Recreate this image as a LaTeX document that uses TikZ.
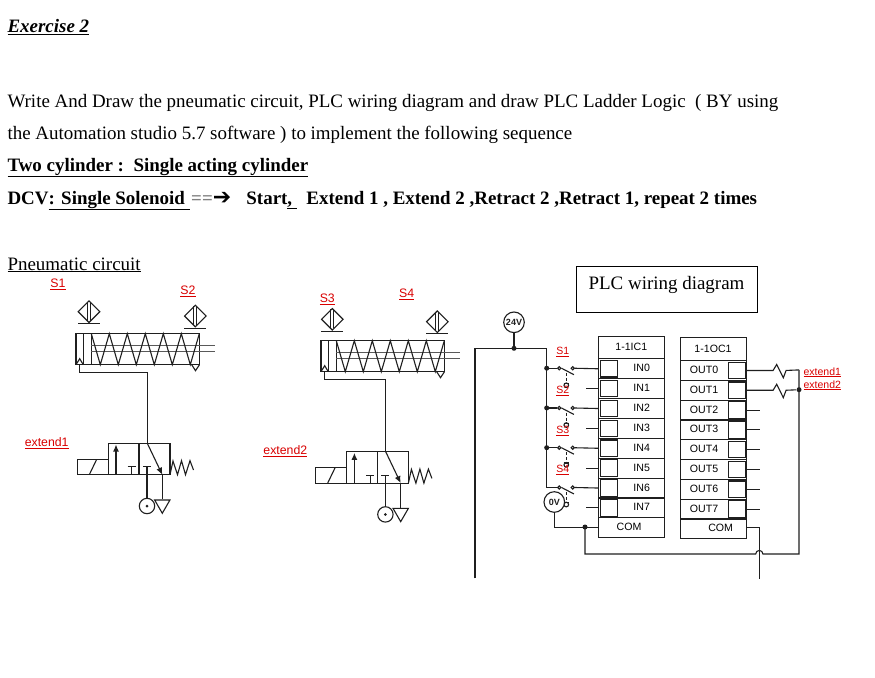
\documentclass[tikz,border=0pt]{standalone}
\usepackage{fontspec}
\setmainfont{Liberation Serif}
\setsansfont{Liberation Sans}
\newfontfamily\arrowfont{DejaVu Sans}
\usetikzlibrary{shapes.geometric,arrows.meta}
\tikzset{
	txt/.style={anchor=base west, inner sep=0pt, font=\fontsize{18.95}{21}\selectfont},
	tag/.style={inner sep=0pt, text=red!85!black, font=\sffamily\fontsize{12.3}{13}\selectfont},
	smalltag/.style={inner sep=0pt, text=red!85!black, font=\sffamily\fontsize{10.5}{11}\selectfont},
	sensor/.style={draw, diamond, minimum size=22pt, inner sep=0pt},
	rowbox/.style={draw, anchor=north west, minimum width=66pt, minimum height=19.85pt, inner sep=0pt},
	sqbox/.style={draw, minimum width=17pt, minimum height=16.5pt, inner sep=0pt},
	plctxt/.style={inner sep=0pt, text=black, font=\sffamily\fontsize{10.6}{12}\selectfont},
	dot/.style={circle, fill, inner sep=0pt, minimum size=5pt},
	contact/.style={draw, fill=white, circle, inner sep=0pt, minimum size=3.2pt},
	supply/.style={draw, circle, inner sep=0pt, minimum size=20.6pt, font=\sffamily\bfseries\fontsize{9}{10}\selectfont}
}
% cylinder: #1 is the shift, #2 the number of its port
\newcommand{\cylinder}[2]{
	\begin{scope}[shift={#1}]
		\draw (76,333.7) rectangle (199.5,364.7);
		\draw (83.3,333.7) -- (83.3,364.7);
		\draw (91.3,333.7) -- (91.3,364.7);
		\draw[gray!70!black] (91.3,345.7) -- (215,345.7);
		\draw[gray!70!black] (91.3,351.7) -- (215,351.7);
		\draw (91.3,333.7) \foreach \k in {1,...,6} {-- ++(9,31) -- ++(9,-31)};
		\draw (76,364.7) -- (79.7,358.7) -- (83.3,364.7);
		\draw (191.7,364.7) -- (195.5,370.7) -- (199.5,364.7);
		\coordinate (port#2) at (79.7,364.7);
	\end{scope}
}
% valve: #1 is the shift, #2 the number of its top port
\newcommand{\valve}[2]{
	\begin{scope}[shift={#1}]
		\draw (108.3,443.3) rectangle (170,474.7);
		\draw (139,443.3) -- (139,474.7);
		\draw (77.3,459.3) rectangle (108.3,474.7);
		\draw (89.3,474.7) -- (96.7,459.3);
		\draw[-{Latex[length=7pt,width=6pt]}] (116,474.7) -- (116,444.5);
		\draw (131.7,474.7) -- (131.7,466.7);
		\draw (127.7,466.7) -- (135.7,466.7);
		\draw (147,474.7) -- (147,466.7);
		\draw (143,466.7) -- (151,466.7);
		\coordinate (top#2) at (147.3,443.3);
		\draw[-{Latex[length=7pt,width=6pt]}] (top#2) -- (162.3,474.7);
		\draw (170,474.7) -- (173,461) -- (177.5,474.7) -- (181.5,460.7) -- (185.5,474.7) -- (190,460.7) -- (193.5,470);
		\node[draw, circle, inner sep=0pt, minimum size=15.4pt] (pump#2) at (147,506) {};
		\fill (pump#2.center) circle (1.5);
		\draw (147,474.7) -- (pump#2.north);
		\node[draw, regular polygon, regular polygon sides=3, shape border rotate=180, minimum size=17.7pt, inner sep=0pt] (tank#2) at (162.3,504.4) {};
		\draw (162.3,474.7) -- (tank#2.center |- tank#2.corner 2);
	\end{scope}
}
% sensor with the line under it
\newcommand{\prox}[3]{
	\node[sensor] (#1) at (#2,#3) {};
	\draw ([xshift=-1.5pt]#1.north) ++(0,1.5) -- ++(0,19);
	\draw ([xshift=1.5pt]#1.north) ++(0,1.5) -- ++(0,19);
	\draw ([xshift=-11pt]#1.south) ++(0,0.6) -- ++(22,0);
}
\begin{document}
\begin{tikzpicture}[x=1pt,y=-1pt,line width=1.1pt,black!88]
	\useasboundingbox (0,0) rectangle (875,677);
	\fill[white] (0,0) rectangle (875,677);
	% texts on top
	\node[txt,black] (title) at (7,33) {\bfseries\itshape\underline{Exercise 2}};
	\node[txt,black] (lineone) at (7,107) {Write And Draw the pneumatic circuit, PLC wiring diagram and draw PLC Ladder Logic\ \ ( BY using};
	\node[txt,black] (linetwo) at (7,139) {the Automation studio 5.7 software ) to implement the following sequence};
	\node[txt,black] (linethree) at (7,171) {\bfseries\underline{Two cylinder :\ \ Single acting cylinder}};
	\node[txt,black] (linefour) at (7,204) {\bfseries DCV\underline{: Single Solenoid\ }\kern1.5pt{\color{gray}==}{\arrowfont\fontsize{22}{22}\selectfont➔}\kern1pt\ \ \ Start\underline{,\ }\ \ Extend 1 , Extend 2 ,Retract 2 ,Retract 1, repeat 2 times};
	\node[txt,black] (pneu) at (7,270) {\underline{Pneumatic circuit}};
	\node[draw,black,minimum width=181pt,minimum height=45.5pt,anchor=north west,inner sep=0pt] (plcbox) at (576,266) {};
	\node[txt,black,anchor=center] (plcname) at (666.5,285) {PLC wiring diagram};

	% cylinders and valves
	\cylinder{(0,0)}{1}
	\valve{(0,0)}{1}
	\cylinder{(245,7)}{2}
	\valve{(238.4,8.4)}{2}
	\draw (port1) -- (79.7,372.7) -| (top1);
	\draw (port2) -- (324.7,379.4) -| (top2);
	\prox{sone}{89}{311.7}
	\prox{stwo}{195.3}{316}
	\prox{sthree}{332.3}{319.3}
	\prox{sfour}{437.3}{321.7}
	\node[tag] (tone) at (58,284) {\underline{S1}};
	\node[tag] (ttwo) at (188,291) {\underline{S2}};
	\node[tag] (tthree) at (327.3,299) {\underline{S3}};
	\node[tag] (tfour) at (406.7,294) {\underline{S4}};
	\node[tag] (ext1) at (46.7,443.3) {\underline{extend1}};
	\node[tag] (ext2) at (285.3,451) {\underline{extend2}};

	% input card
	\node[rowbox,minimum height=22.3pt] (inhead) at (598.3,336) {};
	\node[plctxt] (inname) at (631.3,347) {1-1IC1};
	\foreach \i in {0,...,7} {
		\node[rowbox] (in\i) at (598.3,358.3+19.875*\i) {};
		\node[sqbox,anchor=west] (inbox\i) at (in\i.west) [xshift=1.5pt] {};
		\node[plctxt] (intxt\i) at (641.7,368.2+19.875*\i) {IN\i};
	}
	\node[rowbox] (incom) at (598.3,517.3) {};
	\node[plctxt] (incomtxt) at (629,527) {COM};

	% output card
	\node[rowbox,minimum height=23pt] (outhead) at (680,337) {};
	\node[plctxt] (outname) at (713,348.5) {1-1OC1};
	\foreach \i in {0,...,7} {
		\node[rowbox,minimum height=19.8pt] (out\i) at (680,360+19.8*\i) {};
		\node[sqbox,anchor=east] (outbox\i) at (out\i.east) [xshift=-1.5pt] {};
		\node[plctxt] (outtxt\i) at (704,369.9+19.8*\i) {OUT\i};
	}
	\node[rowbox,minimum height=19.4pt] (outcom) at (680,518.3) {};
	\node[plctxt] (outcomtxt) at (720.7,528) {COM};
	\foreach \i in {2,...,7} {
		\coordinate (stub\i) at ([xshift=13.3pt]out\i.east);
		\draw (out\i.east) -- (stub\i);
	}
	\foreach \i in {1,3,5,7} {
		\coordinate (instub\i) at ([xshift=-12.3pt]in\i.west);
		\draw (instub\i) -- (in\i.west);
	}

	% supply
	\node[supply] (vplus) at (514,322.3) {24V};
	\node[dot] (dplus) at (514,348.3) {};
	\coordinate (railtop) at (546.7,348.3);
	\coordinate (railleft) at (475,348.3);
	\coordinate (railend) at (475,578.3);
	\draw (vplus.south) -- (dplus.center);
	\draw (railend) -- (railleft) -- (railtop) -- (546.7,487.5);

	% switches
	\foreach \i in {0,2,4,6} {
		\coordinate (rail\i) at (546.7,368.2+19.875*\i);
		\node[contact] (ca\i) at (559.3,368.2+19.875*\i) {};
		\node[contact] (cb\i) at (572.7,368.2+19.875*\i) {};
		\draw (rail\i) -- (ca\i);
		\draw (cb\i) -- (in\i.west);
		\draw (ca\i.east) -- ++(12.5,6.5);
		\node[contact,minimum size=4.6pt] (roll\i) at (566.3,385.3+19.875*\i) {};
		\draw[densely dashed] (566.3,372.9+19.875*\i) -- (roll\i.north);
		\draw (563.7,383.5+19.875*\i) -- ++(5.2,0);
	}
	\foreach \i in {0,2,4} {
		\node[dot] (drail\i) at (rail\i) {};
	}
	\node[smalltag] (ta) at (562.7,351.7) {\underline{S1}};
	\node[smalltag] (tb) at (562.7,391) {\underline{S2}};
	\node[smalltag] (tc) at (562.7,431) {\underline{S3}};
	\node[smalltag] (td) at (562.7,470.3) {\underline{S4}};

	% zero volt and common lines
	\node[supply,fill=white] (vzero) at (554.3,502) {0V};
	\node[dot] (dzero) at (585,527) {};
	\draw (vzero.south) |- (incom.west);
	\coordinate (busleft) at (585,554);
	\coordinate (busright) at (799,554);
	\coordinate (hopa) at (755.7,554);
	\coordinate (comturn) at (759.3,527.7);
	\coordinate (comend) at (759.3,579);
	\coordinate (busup) at (799,369.9);
	\node[dot] (dout) at (799,389.7) {};
	\draw (dzero.center) -- (busleft) -- (hopa) arc (180:360:3.6) -- (busright) -- (busup);
	\draw (outcom.east |- comturn) -- (comturn) -- (comend);

	% coils on the outputs
	\draw (out0.east) -- ++(26,0) -- ++(3.6,-6) -- ++(6.6,13.4) -- ++(2.8,-7.4) -- (busup);
	\draw (out1.east) -- ++(26,0) -- ++(3.6,-6) -- ++(6.6,13.4) -- ++(2.8,-7.4) -- (dout);
	\node[smalltag] (coilone) at (822.3,372.3) {\underline{extend1}};
	\node[smalltag] (coiltwo) at (822.3,385.3) {\underline{extend2}};
\end{tikzpicture}
\end{document}
